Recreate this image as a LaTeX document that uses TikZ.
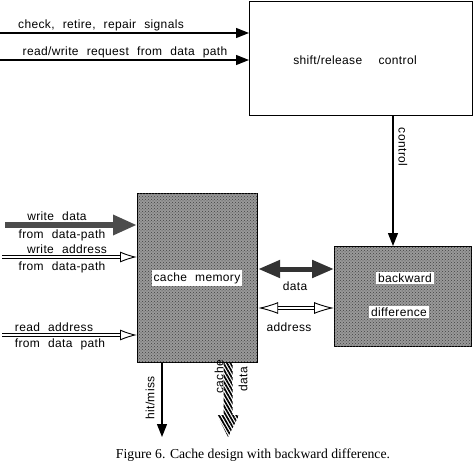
\documentclass[tikz,border=0pt]{standalone}
\usepackage{fontspec}
\setmainfont{Liberation Serif}
\setsansfont[WordSpace=2.2,LetterSpace=3]{Liberation Sans}
\usepackage{tikz}
\usetikzlibrary{arrows.meta,positioning,calc,patterns,patterns.meta}

\tikzset{
  blk/.style={draw,line width=1.2pt,inner sep=0pt},
  dither/.style={fill=black!40,postaction={pattern=crosshatch dots,pattern color=black!75}},
  lbl/.style={font=\sffamily\fontsize{12}{13}\selectfont,inner sep=1pt},
  tag/.style={lbl,fill=white,inner sep=2pt},
  sig/.style={line width=1.3pt,-{Triangle[length=13pt,width=10pt]}},
  fat/.style={line width=6pt,black!70,-{Triangle[length=24pt,width=19pt]}},
  fatboth/.style={line width=5pt,black!80,{Triangle[length=22pt,width=17pt]}-{Triangle[length=22pt,width=17pt]}},
  dbl/.style={double,double distance=2.2pt,line width=0.9pt,-{Latex[open,length=17pt,width=11pt]}},
  dblboth/.style={double,double distance=2.2pt,line width=0.9pt,{Latex[open,length=20pt,width=12pt]}-{Latex[open,length=20pt,width=12pt]}}
}

\begin{document}
\begin{tikzpicture}[x=1pt,y=-1pt]
  \useasboundingbox (0,0) rectangle (474,468);
  % blocks
  \node[blk,minimum width=223pt,minimum height=114pt,anchor=north west] (ctrl) at (249,1) {};
  \node[blk,dither,minimum width=120pt,minimum height=169pt,anchor=north west] (cache) at (137,193) {};
  \node[blk,dither,minimum width=137pt,minimum height=100pt,anchor=north west] (bd) at (334,246) {};
  \node[lbl] (ctrltxt) at (355,60) {shift/release\ \ control};
  \node[tag] (cachetxt) at (197,278) {cache memory};
  \node[tag] (bdtxt1) at (405,278) {backward};
  \node[tag] (bdtxt2) at (399,312) {difference};

  % signals into the control block
  \coordinate (s1) at (0,33);
  \coordinate (s2) at (0,60);
  \draw[sig] (s1) -- (s1 -| ctrl.west);
  \draw[sig] (s2) -- (s2 -| ctrl.west);
  \node[lbl] (s1txt) at (101,25) {check, retire, repair signals};
  \node[lbl] (s2txt) at (125,52) {read/write request from data path};

  \coordinate (c1) at (393,0);
  \draw[sig] (ctrl.south -| c1) -- (bd.north -| c1);
  \node[lbl,rotate=-90] (c1txt) at (403,147) {control};

  % inputs from the data path
  \coordinate (w1) at (5,225);
  \coordinate (w2) at (2,257);
  \coordinate (r1) at (2,335);
  \draw[fat] (w1) -- (w1 -| cache.west);
  \draw[dbl] (w2) -- (w2 -| cache.west);
  \draw[dbl] (r1) -- (r1 -| cache.west);
  \node[lbl] (w1txt) at (57,216) {write data};
  \node[lbl] (w1txt2) at (62,235) {from data-path};
  \node[lbl] (w2txt) at (67,249) {write address};
  \node[lbl] (w2txt2) at (62,267) {from data-path};
  \node[lbl] (r1txt) at (54,327) {read address};
  \node[lbl] (r1txt2) at (60,344) {from data path};

  % between cache and backward difference
  \coordinate (d1) at (0,269);
  \coordinate (a1) at (0,308);
  \draw[fatboth] (cache.east |- d1) -- (bd.west |- d1);
  \draw[dblboth] (cache.east |- a1) -- (bd.west |- a1);
  \node[lbl] (d1txt) at (295,286) {data};
  \node[lbl] (a1txt) at (289,327) {address};

  % outputs
  \coordinate (h1) at (162,437);
  \draw[sig] (cache.south -| h1) -- (h1);
  \node[lbl,rotate=90] (h1txt) at (150,398) {hit/miss};
  \coordinate (k2) at (228,437);
  \coordinate (kt) at (cache.south -| k2);
  \fill[pattern={Lines[angle=-60,distance=3pt,line width=1.7pt]}]
    ($(kt)+(-4.5,0)$) -- ($(k2)+(-4.5,-22)$) -- ($(k2)+(-11,-22)$) -- (k2)
    -- ($(k2)+(11,-22)$) -- ($(k2)+(4.5,-22)$) -- ($(kt)+(4.5,0)$) -- cycle;
  \node[lbl,rotate=90] (k1txt) at (219,377) {cache};
  \node[lbl,rotate=90] (k2txt) at (243,379) {data};

  \node[font=\rmfamily\fontsize{13.7}{16}\selectfont] (caption) at (253,455)
    {Figure 6. Cache design with backward difference.};
\end{tikzpicture}
\end{document}
